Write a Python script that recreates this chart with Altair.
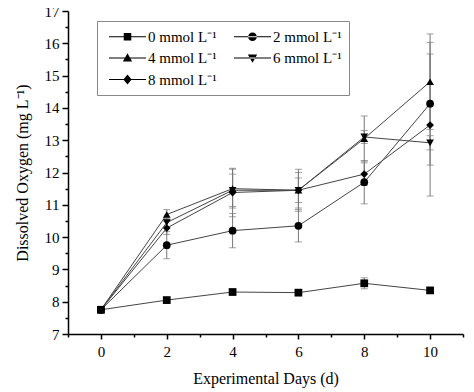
import altair as alt
import pandas as pd

days = [0, 2, 4, 6, 8, 10]
series = ["0 mmol L⁻¹", "2 mmol L⁻¹", "4 mmol L⁻¹", "6 mmol L⁻¹", "8 mmol L⁻¹"]
do_0 = [7.75, 8.05, 8.30, 8.28, 8.57, 8.35]
do_2 = [7.75, 9.75, 10.20, 10.35, 11.70, 14.13]
do_4 = [7.75, 10.70, 11.50, 11.45, 13.05, 14.81]
do_6 = [7.75, 10.45, 11.45, 11.45, 13.10, 12.92]
do_8 = [7.75, 10.28, 11.38, 11.45, 11.95, 13.47]
err_0 = [0.03, 0.05, 0.05, 0.05, 0.17, 0.05]
err_2 = [0.03, 0.42, 0.53, 0.50, 0.67, 1.90]
err_4 = [0.03, 0.15, 0.60, 0.55, 0.70, 1.48]
err_6 = [0.03, 0.12, 0.50, 0.38, 0.20, 0.22]
err_8 = [0.03, 0.20, 0.75, 0.65, 0.35, 2.20]

shapes = ["square", "circle", "triangle-up", "triangle-down", "diamond"]
BAR = "M-2.47,-0.067H2.47V0.067H-2.47Z"
legend_paths = [
    BAR + "M-0.5,-0.5H0.5V0.5H-0.5Z",
    BAR + "M-0.58,0A0.58,0.58 0 1,0 0.58,0A0.58,0.58 0 1,0 -0.58,0Z",
    BAR + "M0,-0.64L0.62,0.46L-0.62,0.46Z",
    BAR + "M0,0.64L0.62,-0.46L-0.62,-0.46Z",
    BAR + "M0,-0.68L0.55,0L0,0.68L-0.55,0Z",
]

rows = []
for s, vals, errs in zip(series, [do_0, do_2, do_4, do_6, do_8],
                         [err_0, err_2, err_4, err_6, err_8]):
    for d, v, e in zip(days, vals, errs):
        rows.append({"day": d, "do": v, "lo": v - e, "hi": v + e, "series": s})
df = pd.DataFrame(rows)

FONT = "Liberation Serif"

xscale = alt.Scale(domain=[-1, 11], nice=False)
yscale = alt.Scale(domain=[7, 17], nice=False, zero=False)
xaxis = alt.Axis(values=list(range(-1, 12)), labelOverlap=False,
                 labelExpr="(datum.value % 2 == 0 && datum.value >= 0 && datum.value <= 10) ? format(datum.value, 'd') : ''",
                 tickSize={"condition": {"test": "datum.value % 2 != 0", "value": 3}, "value": 5},
                 title="Experimental Days (d)", titlePadding=11, labelPadding=5)
yaxis = alt.Axis(values=[7 + 0.5 * i for i in range(21)], labelOverlap=False,
                 labelExpr="datum.value % 1 == 0 ? format(datum.value, 'd') : ''",
                 tickSize={"condition": {"test": "datum.value % 1 != 0", "value": 3}, "value": 6},
                 title="Dissolved Oxygen (mg L⁻¹)", titlePadding=14, labelPadding=3)

def X():
    return alt.X("day:Q", scale=xscale, axis=xaxis)

def Y(field):
    return alt.Y(field + ":Q", scale=yscale, axis=yaxis)

base = alt.Chart(df)

lines = base.mark_line(color="#444", strokeWidth=1).encode(
    x=X(), y=Y("do"), detail="series:N", order="day:Q")

bars = base.mark_rule(color="#777", strokeWidth=1).encode(
    x=X(), y=Y("lo"), y2="hi:Q")
cap_lo = base.mark_tick(color="#777", thickness=1, size=7, orient="horizontal").encode(
    x=X(), y=Y("lo"))
cap_hi = base.mark_tick(color="#777", thickness=1, size=7, orient="horizontal").encode(
    x=X(), y=Y("hi"))

points = base.mark_point(filled=True, color="black", size=60, opacity=1).encode(
    x=X(), y=Y("do"),
    shape=alt.Shape("series:N", scale=alt.Scale(domain=series, range=shapes), legend=None))

legend_layer = base.transform_filter("datum.day < -100").mark_point(
    filled=True, color="black").encode(
    x=X(), y=Y("do"),
    shape=alt.Shape("series:N", scale=alt.Scale(domain=series, range=legend_paths),
                    legend=alt.Legend(title=None,
                                      orient="none", legendX=29, legendY=10,
                                      direction="horizontal",
                                      columns=2, columnPadding=12, rowPadding=4.5,
                                      padding=7, strokeColor="#888", fillColor="white",
                                      symbolSize=225, symbolOffset=15,
                                      symbolFillColor="black",
                                      symbolOpacity=1, labelOffset=12,
                                      labelFont=FONT, labelFontSize=15, labelColor="black")))

chart = alt.layer(lines, bars, cap_lo, cap_hi, points, legend_layer).resolve_scale(
    shape="independent"
).properties(
    width=395, height=323,
    padding={"left": 60, "top": 3, "right": 3, "bottom": 60},
    autosize=alt.AutoSizeParams(type="none"),
    background="white",
).configure_view(stroke=None).configure_axis(
    labelFont=FONT, labelFontSize=15, labelColor="black",
    titleFont=FONT, titleFontSize=16, titleColor="black", titleFontWeight="normal",
    domainColor="black", domainWidth=1.5, tickColor="black", tickWidth=1.5,
    grid=False,
)

chart.save("out.html", embed_options={"renderer": "svg", "actions": False})
